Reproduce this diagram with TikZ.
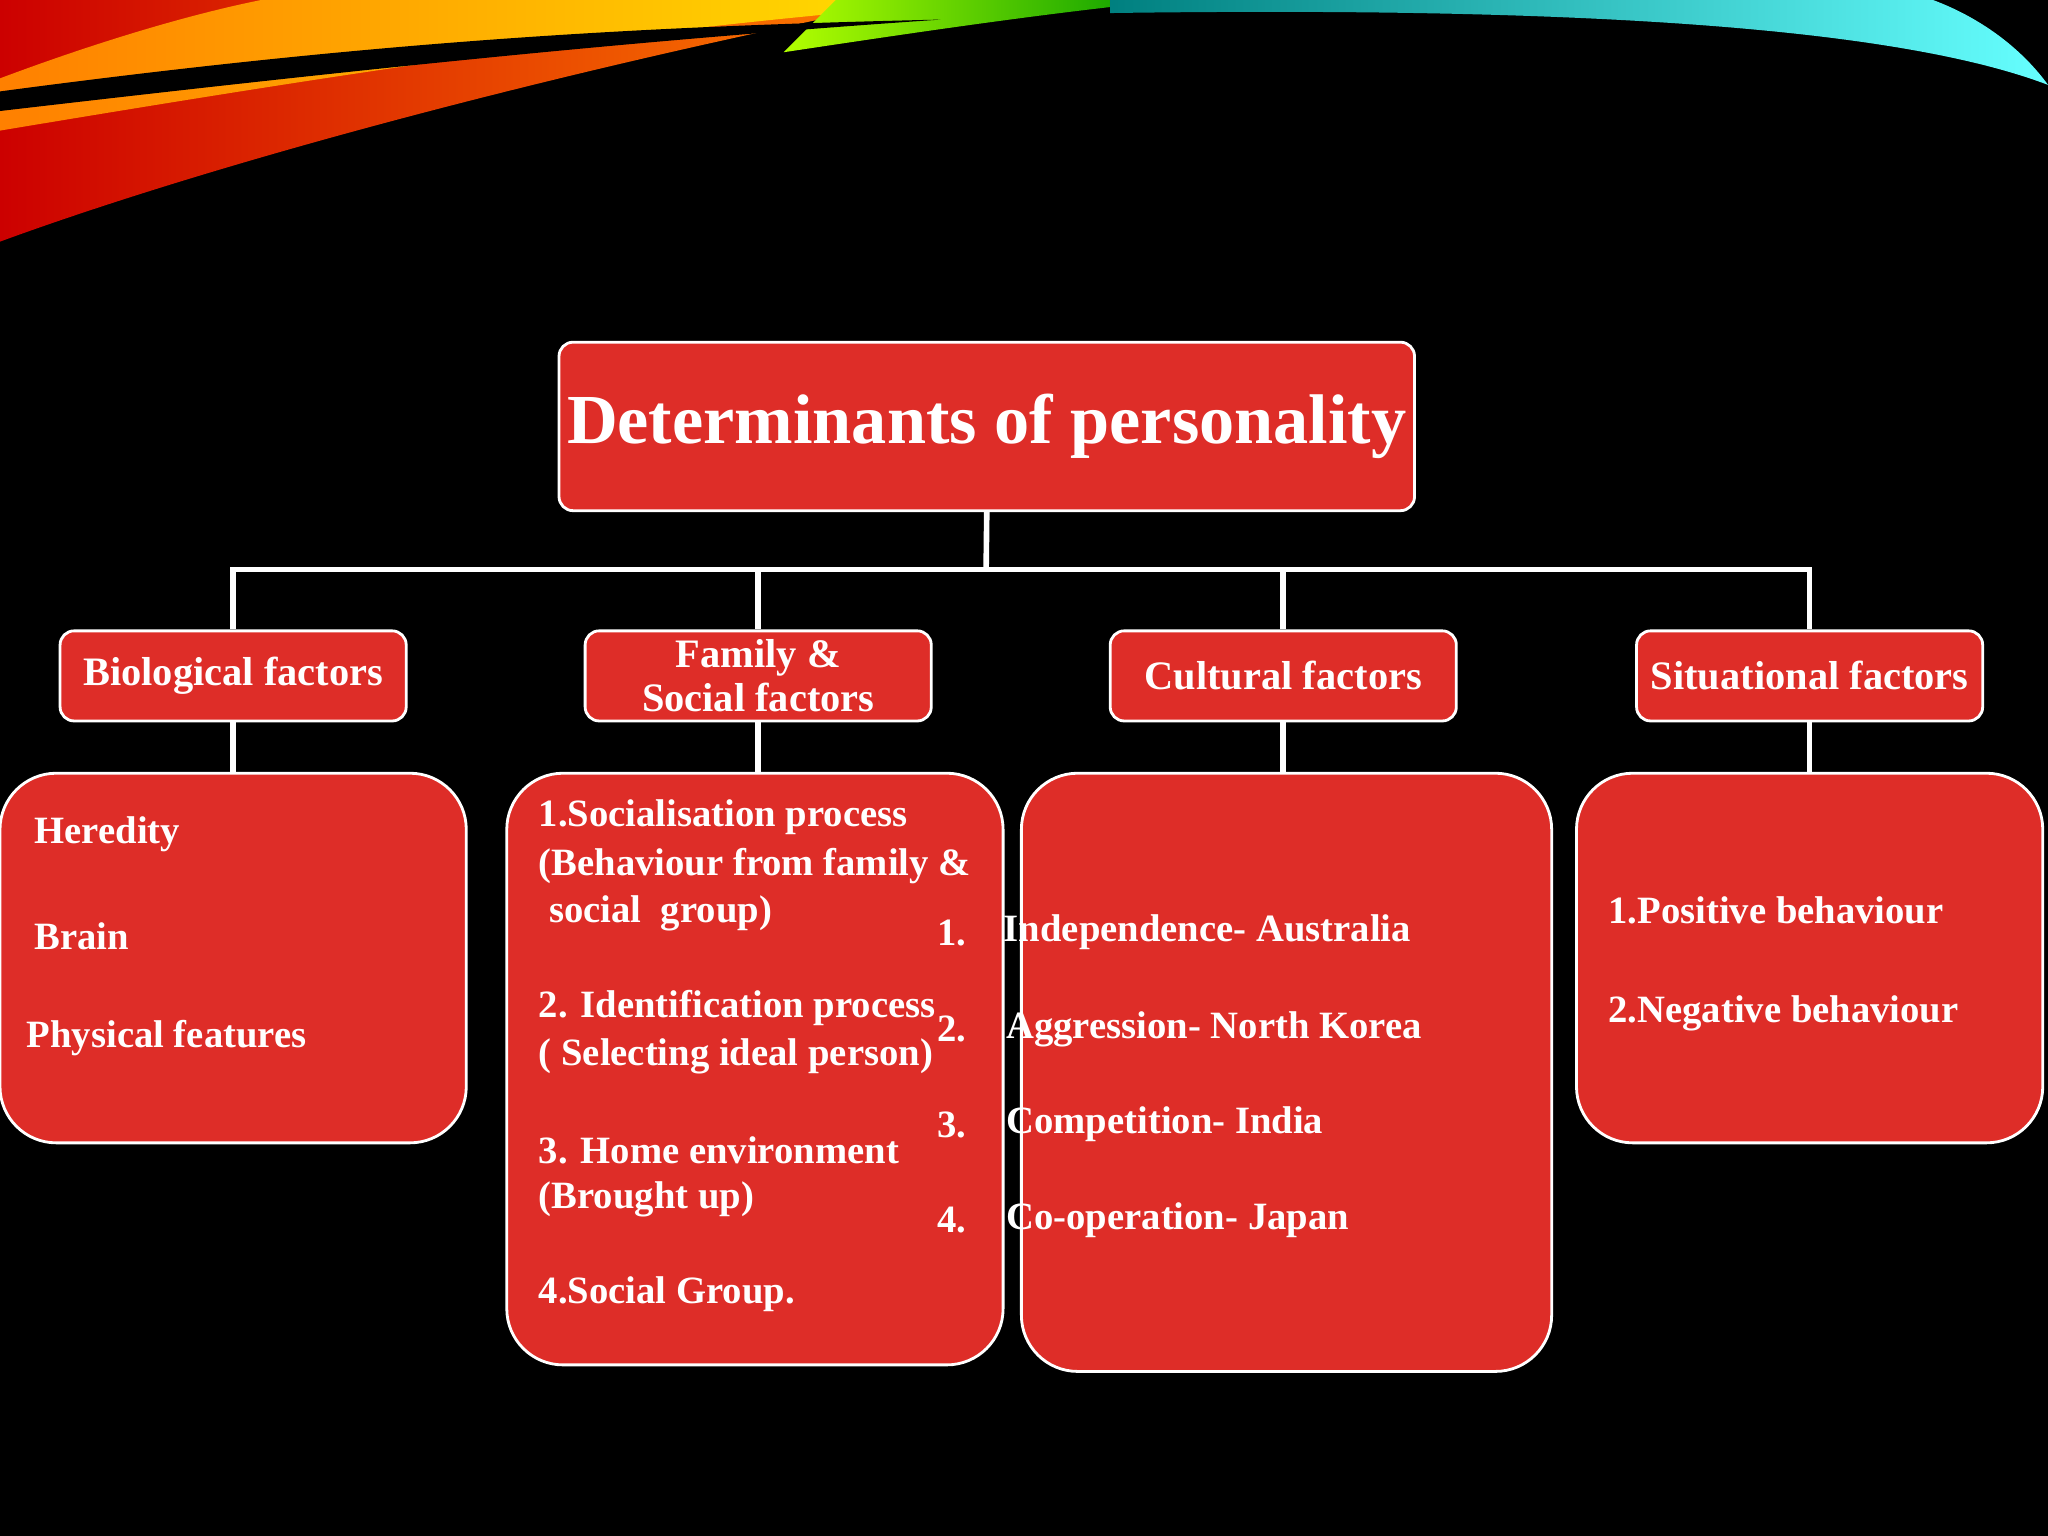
\documentclass[tikz,border=0pt]{standalone}
\usepackage{fontspec}
\setmainfont{Liberation Serif}
\begin{document}
\begin{tikzpicture}[x=0.01306cm,y=-0.01306cm,
 box/.style={draw=white,fill=boxred,rounded corners=4pt,line width=0.8pt},
 big/.style={draw=white,fill=boxred,rounded corners=16pt,line width=0.8pt},
 lbl/.style={text=white,font=\bfseries\fontsize{11.5}{12.5}\selectfont},
 txt/.style={text=white,font=\bfseries\fontsize{11}{13.5}\selectfont,anchor=west,inner sep=0pt},
 con/.style={draw=white,line width=1.6pt}]
\definecolor{boxred}{RGB}{222,45,40}
\useasboundingbox (0,0) rectangle (1568,1176);
\fill[black] (0,0) rectangle (1568,1176);
% swoosh
\shade[left color=red!80!black,right color=orange] (0,0) -- (700,0) .. controls (400,60) and (150,130) .. (0,185) -- cycle;
\shade[left color=orange,right color=yellow!80!orange] (200,0) -- (760,0) .. controls (500,20) and (300,50) .. (0,100) -- (0,60) .. controls (80,30) and (150,10) .. (200,0) -- cycle;
\shade[left color=yellow!70!green,right color=green!60!black] (640,0) -- (900,0) .. controls (800,10) and (700,25) .. (600,40) -- cycle;
\shade[left color=teal,right color=cyan!60] (850,0) -- (1480,0) .. controls (1520,15) and (1550,40) .. (1568,65) .. controls (1450,20) and (1200,5) .. (850,10) -- cycle;
\fill[black] (0,70) .. controls (300,30) and (500,20) .. (720,15) .. controls (500,30) and (300,50) .. (0,85) -- cycle;
% nodes
\node[box,minimum width=655*0.01306cm,minimum height=129*0.01306cm,inner sep=0pt,text=white,font=\bfseries\fontsize{20}{22}\selectfont] (t) at (755.5,326.5) {Determinants of personality};
\node[box,lbl,minimum width=265*0.01306cm,minimum height=69*0.01306cm] (b) at (178.5,517.5) {Biological factors};
\node[box,lbl,minimum width=265*0.01306cm,minimum height=69*0.01306cm,align=center,inner sep=0pt] (f) at (580.5,517.5) {Family \&\\Social factors};
\node[box,lbl,minimum width=265*0.01306cm,minimum height=69*0.01306cm] (c) at (982.5,517.5) {Cultural factors};
\node[box,lbl,minimum width=265*0.01306cm,minimum height=69*0.01306cm,inner sep=0pt] (s) at (1385.5,517.5) {Situational factors};
\coordinate (j) at (755,436);
\draw[con] (t.south) -- (j);
\draw[con] (b.north) |- (s.north |- j) -- (s.north);
\draw[con] (f.north) -- (f.north |- j);
\draw[con] (c.north) -- (c.north |- j);
\node[big,minimum width=357*0.01306cm,minimum height=283*0.01306cm] (B) at (178.5,733.5) {};
\node[big,minimum width=380*0.01306cm,minimum height=453*0.01306cm] (F) at (578,818.5) {};
\node[big,minimum width=406*0.01306cm,minimum height=458*0.01306cm] (C) at (985,821) {};
\node[big,minimum width=357*0.01306cm,minimum height=283*0.01306cm] (S) at (1385.5,733.5) {};
\draw[con] (b.south) -- (b.south |- B.north);
\draw[con] (f.south) -- (f.south |- F.north);
\draw[con] (c.south) -- (c.south |- C.north);
\draw[con] (s.south) -- (s.south |- S.north);
% texts
\node[txt] at (26,639) {Heredity};
\node[txt] at (26,717) {Brain};
\node[txt] at (20,795) {Physical features};
\node[txt] at (412,626) {1.Socialisation process};
\node[txt] at (412,663) {(Behaviour from family \&};
\node[txt] at (420,699) {social\ \ group)};
\node[txt] at (412,772) {2. Identification process};
\node[txt] at (412,809) {( Selecting ideal person)};
\node[txt] at (412,881) {3. Home environment};
\node[txt] at (412,918) {(Brought up)};
\node[txt] at (412,991) {4.Social Group.};
\node[txt] at (717,714) {1.};
\node[txt] at (768,714) {Independence- Australia};
\node[txt] at (717,788) {2.};
\node[txt] at (770,788) {Aggression- North Korea};
\node[txt] at (717,861) {3.};
\node[txt] at (770,861) {Competition- India};
\node[txt] at (717,934) {4.};
\node[txt] at (770,934) {Co-operation- Japan};
\node[txt] at (1231,697) {1.Positive behaviour};
\node[txt] at (1231,776) {2.Negative behaviour};
\end{tikzpicture}
\end{document}
